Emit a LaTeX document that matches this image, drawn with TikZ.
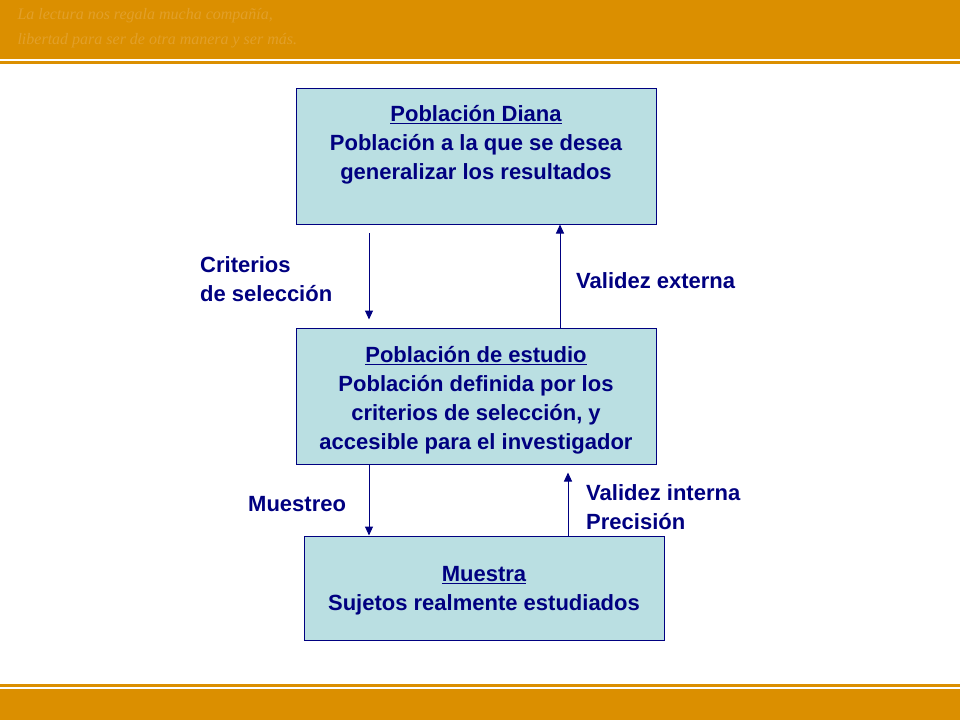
\documentclass[tikz,border=0pt]{standalone}
\usepackage{fontspec}
\setmainfont{Liberation Sans}
\newfontfamily\lemafont{Liberation Serif}
\usepackage{xcolor}
\usetikzlibrary{arrows.meta,positioning}

\definecolor{naranja}{HTML}{DB8F00}
\definecolor{naranjaclaro}{HTML}{E2A02A}
\definecolor{celeste}{HTML}{BADFE2}
\definecolor{marino}{HTML}{000080}

\begin{document}
\begin{tikzpicture}[x=1pt,y=-1pt,
    caja/.style={draw=marino, fill=celeste, line width=1pt, minimum width=360pt, inner sep=0pt},
    texto/.style={text=marino, font=\bfseries\fontsize{22}{29}\selectfont, align=center, anchor=north},
    etiqueta/.style={text=marino, font=\bfseries\fontsize{22}{29}\selectfont, align=left, anchor=west, inner sep=0pt},
    flecha/.style={draw=marino, line width=1pt, -{Triangle[width=8pt,length=9pt]}}]
            \useasboundingbox (0,0) rectangle (960,720);
            % bandas
            \fill[naranja] (0,0) rectangle (960,59);
            \fill[naranja] (0,61) rectangle (960,64);
            \fill[naranja] (0,684) rectangle (960,686.5);
            \fill[naranja] (0,689) rectangle (960,720);
            \node[text=naranjaclaro, font=\lemafont\itshape\fontsize{16}{25}\selectfont, align=left, anchor=west] (lema) at (14,28) {La lectura nos regala mucha compa\~n\'ia,\\libertad para ser de otra manera y ser m\'as.};
            % cajas
            \node[caja, minimum height=136pt, label={[texto, yshift=-14pt]north:{\underline{Población Diana}\\Población a la que se desea\\generalizar los resultados}}] (diana) at (476,156) {};
            \node[caja, minimum height=136pt, label={[texto, yshift=-15pt]north:{\underline{Población de estudio}\\Población definida por los\\criterios de selección, y\\accesible para el investigador}}] (estudio) at (476,396) {};
            \node[caja, minimum height=104pt, label={[texto, yshift=-27pt]north:{\underline{Muestra}\\Sujetos realmente estudiados}}] (muestra) at (484,588) {};
            % flechas
            \coordinate (c1) at (369,233);
            \coordinate (c2) at (560,0);
            \coordinate (c3) at (369,0);
            \coordinate (c4) at (568,0);
            \draw[flecha, shorten >=8pt] (c1) -- (c1 |- estudio.north);
            \draw[flecha] (c2 |- estudio.north) -- (c2 |- diana.south);
            \draw[flecha] (c3 |- estudio.south) -- (c3 |- muestra.north);
            \draw[flecha, shorten >=8pt] (c4 |- muestra.north) -- (c4 |- estudio.south);
            % etiquetas
            \node[etiqueta] (criterios) at (200,279) {Criterios\\de selección};
            \node[etiqueta] (externa) at (576,281) {Validez externa};
            \node[etiqueta] (muestreo) at (248,504) {Muestreo};
            \node[etiqueta] (interna) at (586,507) {Validez interna\\Precisión};
        \end{tikzpicture}
\end{document}
